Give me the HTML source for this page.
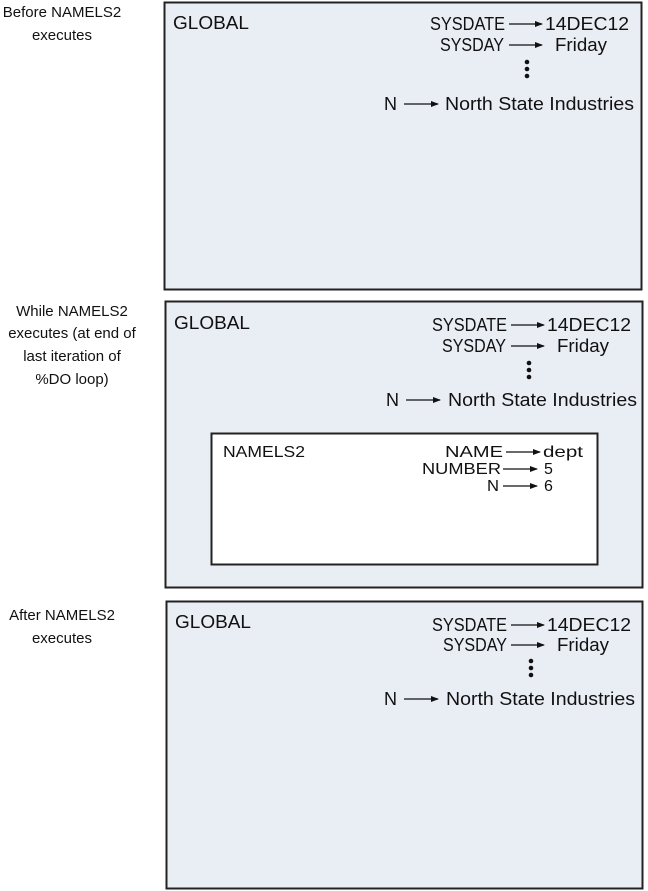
<!DOCTYPE html>
<html><head><meta charset="utf-8"><style>
html,body{margin:0;padding:0;background:#fff;}
svg{display:block;}
text{font-family:"Liberation Sans",sans-serif;fill:#111;}
</style></head><body>
<svg width="648" height="891" viewBox="0 0 648 891" xmlns="http://www.w3.org/2000/svg">
<defs>
<marker id="ah" markerWidth="8" markerHeight="6" refX="7" refY="3" orient="auto" markerUnits="userSpaceOnUse">
<polygon points="0,0 8,3 0,6" fill="#111"/>
</marker>
</defs>
<g font-size="15">
<text x="62" y="17" text-anchor="middle">Before NAMELS2</text>
<text x="62" y="40" text-anchor="middle">executes</text>
<text x="72" y="316" text-anchor="middle">While NAMELS2</text>
<text x="72" y="338" text-anchor="middle">executes (at end of</text>
<text x="72" y="361" text-anchor="middle">last iteration of</text>
<text x="72" y="384" text-anchor="middle">%DO loop)</text>
<text x="62" y="620" text-anchor="middle">After NAMELS2</text>
<text x="62" y="643" text-anchor="middle">executes</text>
</g>

<!-- Box 1 -->
<rect x="164.5" y="2.5" width="477" height="287" fill="#e9edf4" stroke="#222" stroke-width="2"/>
<g font-size="18">
<text x="173" y="29" textLength="76" lengthAdjust="spacingAndGlyphs">GLOBAL</text>
<text x="430" y="30" textLength="75" lengthAdjust="spacingAndGlyphs">SYSDATE</text>
<text x="545" y="30" textLength="84" lengthAdjust="spacingAndGlyphs">14DEC12</text>
<text x="440" y="51" textLength="64" lengthAdjust="spacingAndGlyphs">SYSDAY</text>
<text x="555" y="51" textLength="52" lengthAdjust="spacingAndGlyphs">Friday</text>
<text x="384" y="110" textLength="13" lengthAdjust="spacingAndGlyphs">N</text>
<text x="445" y="110" textLength="189" lengthAdjust="spacingAndGlyphs">North State Industries</text>
</g>
<g stroke="#111" stroke-width="1.2" marker-end="url(#ah)">
<line x1="509" y1="24" x2="542" y2="24"/>
<line x1="509" y1="45" x2="542" y2="45"/>
<line x1="404" y1="104" x2="438" y2="104"/>
</g>
<g fill="#111"><circle cx="527" cy="62" r="2.3"/><circle cx="527" cy="69" r="2.3"/><circle cx="527" cy="76" r="2.3"/></g>

<!-- Box 2 -->
<rect x="165.5" y="301.5" width="477" height="286" fill="#e9edf4" stroke="#222" stroke-width="2"/>
<g font-size="18">
<text x="174" y="329" textLength="76" lengthAdjust="spacingAndGlyphs">GLOBAL</text>
<text x="432" y="331" textLength="75" lengthAdjust="spacingAndGlyphs">SYSDATE</text>
<text x="547" y="331" textLength="84" lengthAdjust="spacingAndGlyphs">14DEC12</text>
<text x="442" y="352" textLength="64" lengthAdjust="spacingAndGlyphs">SYSDAY</text>
<text x="557" y="352" textLength="52" lengthAdjust="spacingAndGlyphs">Friday</text>
<text x="386" y="406" textLength="13" lengthAdjust="spacingAndGlyphs">N</text>
<text x="448" y="406" textLength="189" lengthAdjust="spacingAndGlyphs">North State Industries</text>
</g>
<g stroke="#111" stroke-width="1.2" marker-end="url(#ah)">
<line x1="511" y1="325" x2="544" y2="325"/>
<line x1="511" y1="346" x2="544" y2="346"/>
<line x1="406" y1="400" x2="440" y2="400"/>
</g>
<g fill="#111"><circle cx="529" cy="363" r="2.3"/><circle cx="529" cy="370" r="2.3"/><circle cx="529" cy="377" r="2.3"/></g>

<!-- inner box -->
<rect x="211.5" y="433.5" width="386" height="131" fill="#fff" stroke="#222" stroke-width="2"/>
<g font-size="16">
<text x="223" y="457" textLength="82" lengthAdjust="spacingAndGlyphs">NAMELS2</text>
<text x="445" y="457" textLength="58" lengthAdjust="spacingAndGlyphs">NAME</text>
<text x="543" y="457" textLength="40" lengthAdjust="spacingAndGlyphs">dept</text>
<text x="422" y="474" textLength="79" lengthAdjust="spacingAndGlyphs">NUMBER</text>
<text x="544" y="474">5</text>
<text x="487" y="491" textLength="12" lengthAdjust="spacingAndGlyphs">N</text>
<text x="544" y="491">6</text>
</g>
<g stroke="#111" stroke-width="1.2" marker-end="url(#ah)">
<line x1="506" y1="452" x2="540" y2="452"/>
<line x1="503" y1="469" x2="537" y2="469"/>
<line x1="503" y1="486" x2="537" y2="486"/>
</g>

<!-- Box 3 -->
<rect x="166.5" y="601.5" width="476" height="287" fill="#e9edf4" stroke="#222" stroke-width="2"/>
<g font-size="18">
<text x="175" y="628" textLength="76" lengthAdjust="spacingAndGlyphs">GLOBAL</text>
<text x="432" y="631" textLength="75" lengthAdjust="spacingAndGlyphs">SYSDATE</text>
<text x="547" y="631" textLength="84" lengthAdjust="spacingAndGlyphs">14DEC12</text>
<text x="443" y="651" textLength="64" lengthAdjust="spacingAndGlyphs">SYSDAY</text>
<text x="557" y="651" textLength="52" lengthAdjust="spacingAndGlyphs">Friday</text>
<text x="384" y="705" textLength="13" lengthAdjust="spacingAndGlyphs">N</text>
<text x="446" y="705" textLength="189" lengthAdjust="spacingAndGlyphs">North State Industries</text>
</g>
<g stroke="#111" stroke-width="1.2" marker-end="url(#ah)">
<line x1="511" y1="625" x2="544" y2="625"/>
<line x1="511" y1="645" x2="544" y2="645"/>
<line x1="404" y1="699" x2="438" y2="699"/>
</g>
<g fill="#111"><circle cx="531" cy="661" r="2.3"/><circle cx="531" cy="668" r="2.3"/><circle cx="531" cy="675" r="2.3"/></g>
</svg>
</body></html>
